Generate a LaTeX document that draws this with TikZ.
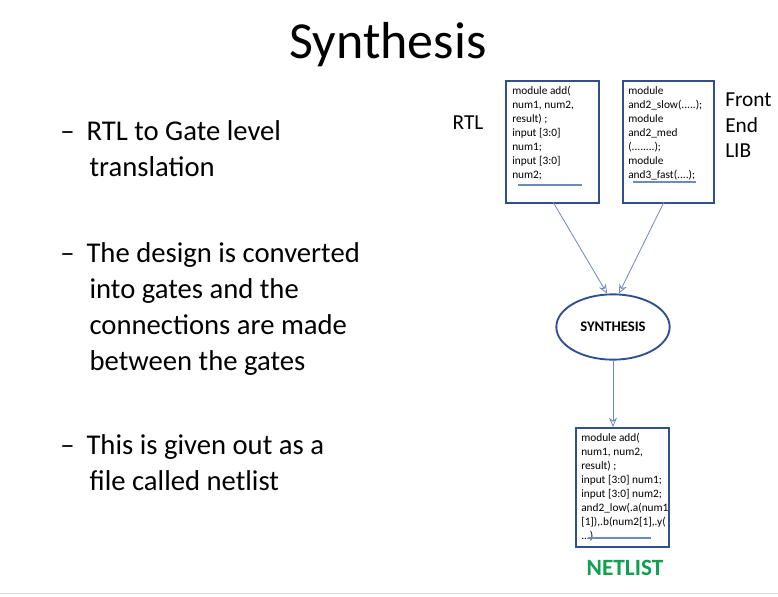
\documentclass[tikz,border=0pt]{standalone}
\usepackage{fontspec}
\setmainfont{Carlito}
\usetikzlibrary{shapes.geometric,arrows.meta}
\definecolor{bx}{HTML}{2F4F8F}
\definecolor{ar}{HTML}{6A8BC0}
\definecolor{gr}{HTML}{10A050}
\begin{document}
\begin{tikzpicture}[x=0.75pt,y=-0.75pt,
  box/.style={draw=bx,line width=1.4pt,inner sep=0},
  code/.style={font=\fontsize{8.5pt}{10.5pt}\selectfont,align=left,anchor=north west,inner sep=0},
  bul/.style={font=\fontsize{21.5pt}{27pt}\selectfont,align=left,anchor=north west,inner sep=0},
  arr/.style={draw=ar,-{Stealth[length=7pt,width=6pt,open]},line width=0.6pt}]
\useasboundingbox (0,0) rectangle (778,596);
\fill[white] (0,0) rectangle (778,596);
\draw[gray!30] (0,593) -- (778,593);
\node[font=\fontsize{39pt}{44pt}\selectfont] (title) at (388,45) {Synthesis};
\node[bul] (b1) at (60,120) {–\hspace{9pt}RTL to Gate level\\\hspace{22pt}translation};
\node[bul] (b2) at (60,242) {–\hspace{9pt}The design is converted\\\hspace{22pt}into gates and the\\\hspace{22pt}connections are made\\\hspace{22pt}between the gates};
\node[bul] (b3) at (60,434) {–\hspace{9pt}This is given out as a\\\hspace{22pt}file called netlist};
\node[font=\fontsize{16pt}{18pt}\selectfont] (rtl) at (468,123) {RTL};
\node[align=left,anchor=north west,inner sep=0,font=\fontsize{16pt}{19pt}\selectfont] (fe) at (725,93) {Front\\End\\LIB};
\node[box,minimum width=70pt,minimum height=91.5pt,anchor=north west] (r) at (505,80) {};
\node[code] (rc) at (512,86) {module add(\\num1, num2,\\result) ;\\input [3:0]\\num1;\\input [3:0]\\num2;};
\draw[ar,line width=0.8pt] (518,185) -- (582,185);
\node[box,minimum width=68pt,minimum height=91.5pt,anchor=north west] (l) at (622,80) {};
\node[code] (lc) at (628,86) {module\\and2\_slow(.....);\\module\\and2\_med\\(........);\\module\\and3\_fast(....);};
\draw[ar,line width=0.8pt] (633,182) -- (696,182);
\node[box,minimum width=70pt,minimum height=89pt,anchor=north west] (n) at (575,427) {};
\node[code] (nc) at (581,433) {module add(\\num1, num2,\\result) ;\\input [3:0] num1;\\input [3:0] num2;\\and2\_low(.a(num1\\{[}1]),.b(num2[1],.y(\\...)};
\draw[ar,line width=0.8pt] (588,538) -- (651,538);
\node[ellipse,draw=bx,line width=1.4pt,minimum width=85pt,minimum height=49pt] (s) at (613,327) {\fontsize{11pt}{12pt}\selectfont\bfseries SYNTHESIS};
\node[text=gr,font=\fontsize{17.5pt}{20pt}\selectfont\bfseries] (nl) at (625,568) {NETLIST};
\coordinate (r1) at (553,202); \coordinate (l1) at (664,202);
\draw[arr] (r1) -- (s.100);
\draw[arr] (l1) -- (s.80);
\draw[arr] (s.south) -- (n.north -| s.south);
\end{tikzpicture}
\end{document}
